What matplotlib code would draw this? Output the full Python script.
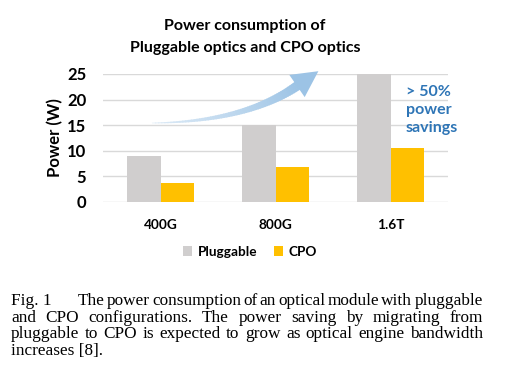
import matplotlib
matplotlib.use("Agg")
import matplotlib.pyplot as plt
import numpy as np
from matplotlib.patches import Polygon
from matplotlib.colors import to_rgb

categories = ["400G", "800G", "1.6T"]
pluggable = [9, 15, 25]
cpo = [3.8, 6.9, 10.6]
yticks = [0, 5, 10, 15, 20, 25]
title_lines = ["Power consumption of", "Pluggable optics and CPO optics"]
annot_lines = ["> 50%", "power", "savings"]
caption_lines = [
    ("Fig. 1", "The power consumption of an optical module with pluggable"),
    (None, "and CPO configurations. The power saving by migrating from"),
    (None, "pluggable to CPO is expected to grow as optical engine bandwidth"),
    (None, "increases [8]."),
]

W, H = 514, 372
fig = plt.figure(figsize=(W / 100, H / 100), dpi=100)
SANS = ["Lato", "DejaVu Sans"]
SERIF = ["Liberation Serif", "DejaVu Serif"]

def fx(x):
    return x / W

def fy(y):
    return 1 - y / H

ax = fig.add_axes([fx(103), fy(202), fx(448) - fx(103), (202 - 74) / H])
x = np.arange(len(categories))
bw = 0.287
ax.bar(x - bw / 2, pluggable, bw, color="#D0CECE", label="Pluggable", zorder=3)
ax.bar(x + bw / 2, cpo, bw, color="#FFC000", label="CPO", zorder=3)
ax.set_xlim(-0.5, 2.5)
ax.set_ylim(0, 25)
ax.set_yticks(yticks)
ax.yaxis.grid(True, color="#D9D9D9", linewidth=1, zorder=0)
for s in ax.spines.values():
    s.set_visible(False)
ax.tick_params(length=0)
ax.set_xticks(x)
ax.set_xticklabels(categories, fontsize=9.8, fontweight="bold", family=SANS)
ax.tick_params(axis="x", pad=12)
ax.tick_params(axis="y", pad=12)
for lab in ax.get_yticklabels():
    lab.set_fontsize(12)
    lab.set_fontweight("bold")
    lab.set_family(SANS)
ax.set_ylabel("Power (W)", fontsize=12, fontweight="bold", family=SANS, labelpad=3)

leg = fig.legend(loc="center", bbox_to_anchor=(fx(250), fy(252)), ncol=2, frameon=False,
                 prop={"family": SANS, "weight": "bold", "size": 9.8},
                 handlelength=0.7, handleheight=0.7, handletextpad=0.4, columnspacing=1.2)

fig.text(fx(245), fy(30), title_lines[0], ha="center", va="baseline", fontsize=11.5,
         fontweight="bold", family=SANS)
fig.text(fx(245), fy(52), title_lines[1], ha="center", va="baseline", fontsize=11.5,
         fontweight="bold", family=SANS)

for i, t in enumerate(annot_lines):
    fig.text(fx(406), fy(92 + 18 * i), t, ha="left", va="center", fontsize=11.5,
             fontweight="bold", color="#2E75B6", family=SANS)

# curved arrow with gradient (pixel coords, y down)
P0 = np.array([152.0, 123.0])
P1 = np.array([245.0, 122.0])
P2 = np.array([297.0, 86.0])
t = np.linspace(0, 1, 60)
pts = ((1 - t) ** 2)[:, None] * P0 + (2 * (1 - t) * t)[:, None] * P1 + (t ** 2)[:, None] * P2
d = (-2 * (1 - t))[:, None] * P0 + (2 - 4 * t)[:, None] * P1 + (2 * t)[:, None] * P2
d /= np.linalg.norm(d, axis=1)[:, None]
nrm = np.stack([d[:, 1], -d[:, 0]], axis=1)
wid = 0.5 + 9.0 * t
upper = pts + nrm * wid[:, None] / 2
lower = pts - nrm * wid[:, None] / 2
c0 = np.array(to_rgb("#DCEAF6"))
c1 = np.array(to_rgb("#9CC3E5"))

def px2fig(arr):
    arr = np.asarray(arr, dtype=float)
    return np.column_stack([arr[:, 0] / W, 1 - arr[:, 1] / H])

for i in range(len(t) - 1):
    quad = np.array([upper[i], upper[i + 1] + (upper[i + 1] - upper[i]) * 0.3,
                     lower[i + 1] + (lower[i + 1] - lower[i]) * 0.3, lower[i]])
    col = c0 + (c1 - c0) * t[i]
    fig.patches.append(Polygon(px2fig(quad), closed=True, transform=fig.transFigure,
                               facecolor=col, edgecolor="none", zorder=5))
dir_end = d[-1]
n_end = nrm[-1]
tip = P2 + dir_end * 26
hl = P2 + n_end * 13.5
hr = P2 - n_end * 13.5
fig.patches.append(Polygon(px2fig([hl, tip, hr]), closed=True, transform=fig.transFigure,
                           facecolor=c1, edgecolor="none", zorder=5))

# caption, justified
fig.canvas.draw()
renderer = fig.canvas.get_renderer()
cap_fs = 12.4
x_left, x_right = 11, 483
baselines = [305, 322, 338, 355]
for li, (lead, body) in enumerate(caption_lines):
    ypix = baselines[li]
    start = x_left
    if lead is not None:
        fig.text(fx(x_left), fy(ypix), lead, ha="left", va="baseline", fontsize=cap_fs, family=SERIF)
        start = 78
    words = body.split(" ")
    if li == len(caption_lines) - 1:
        fig.text(fx(start), fy(ypix), body, ha="left", va="baseline", fontsize=cap_fs, family=SERIF)
        continue
    txts = [fig.text(0, fy(ypix), w, ha="left", va="baseline", fontsize=cap_fs, family=SERIF) for w in words]
    widths = [tt.get_window_extent(renderer).width for tt in txts]
    gap = max((x_right - start - sum(widths)) / (len(words) - 1), 2.0)
    cx = start
    for tt, wdt in zip(txts, widths):
        tt.set_x(fx(cx))
        cx += wdt + gap

fig.savefig("out.png", dpi=100)
